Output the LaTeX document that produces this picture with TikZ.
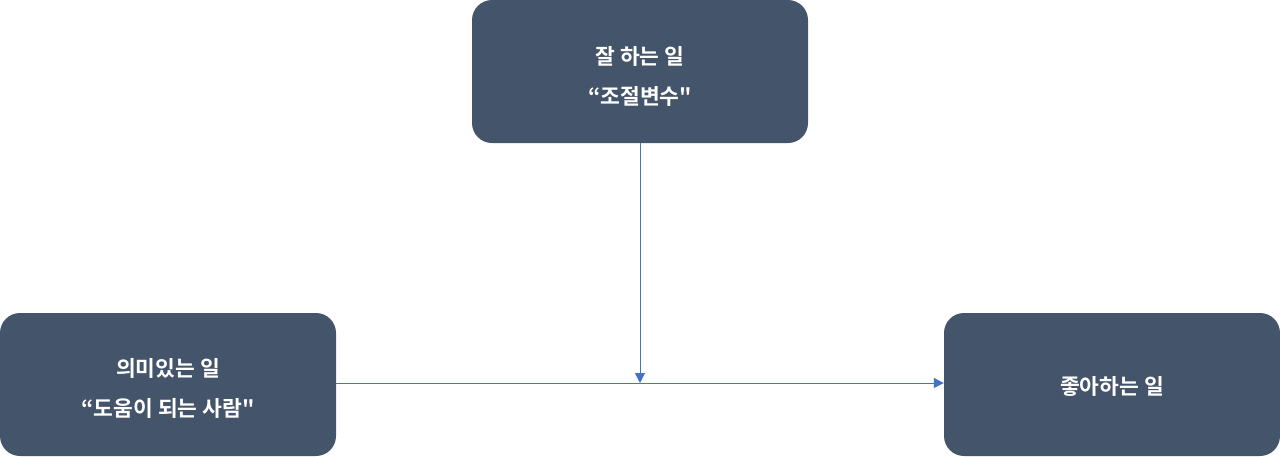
\documentclass[tikz,border=0pt]{standalone}
\usepackage{fontspec}
\setmainfont{Noto Sans CJK KR}[BoldFont={Noto Sans CJK KR Bold}, Ligatures=TeXOff]
\usetikzlibrary{arrows.meta}
\definecolor{boxfill}{HTML}{44546A}
\definecolor{linecol}{HTML}{4472C4}
\tikzset{
  box/.style={draw=none, fill=boxfill, rounded corners=20pt, minimum width=336pt, minimum height=143pt, inner sep=0pt},
  txt/.style={text=white, font=\bfseries\fontsize{21.5pt}{40pt}\selectfont, align=center, inner sep=0pt},
  conn/.style={draw=linecol, line width=1pt, -{Triangle[length=10pt,width=10pt]}}
}
\begin{document}
\begin{tikzpicture}[x=1pt,y=-1pt]
\useasboundingbox (0,0) rectangle (1280,456);
\node[box] (top) at (640,71.5) {};
\node[box] (left) at (168,384.5) {};
\node[box] (right) at (1112,384.5) {};
\node[txt] (toptext) at ([yshift=-5pt]top.center) {잘 하는 일\\“조절변수"};
\node[txt] (lefttext) at ([yshift=-4pt]left.center) {의미있는 일\\“도움이 되는 사람"};
\node[txt] (righttext) at ([yshift=-2pt]right.center) {좋아하는 일};
\coordinate (mid) at (640,383);
\draw[conn] (top.south) -- (mid);
\draw[conn] (left.east |- mid) -- (right.west |- mid);
\end{tikzpicture}
\end{document}
